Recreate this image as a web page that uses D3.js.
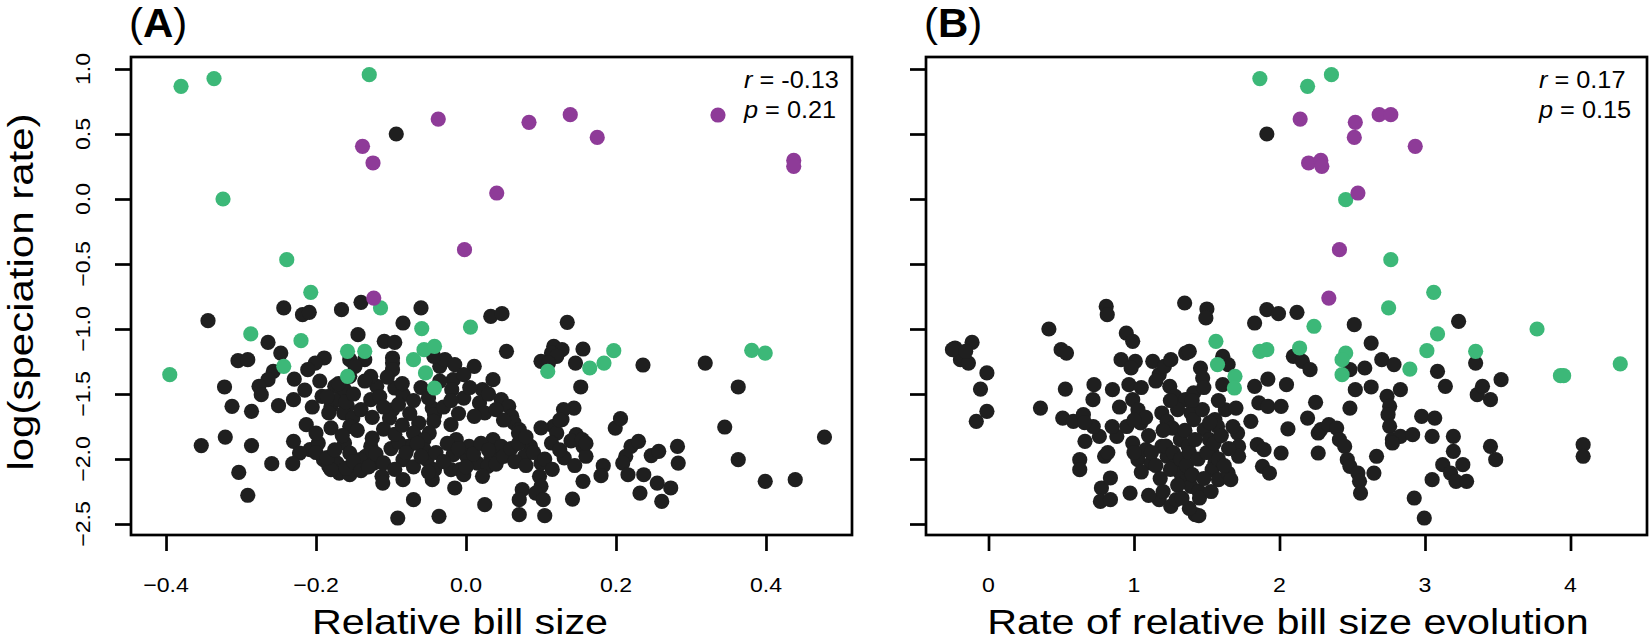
<!DOCTYPE html>
<html><head><meta charset="utf-8">
<script src="https://cdn.jsdelivr.net/npm/d3@7"></script>
<style>
body{margin:0;background:#fff}
svg{display:block}
text{font-family:"Liberation Sans",Arial,Helvetica,sans-serif;fill:#000}
</style>
</head><body>
<svg id="chart" width="1651" height="641"></svg>
<script>
// ---------- data ----------
const yTicks = [1.0, 0.5, 0.0, -0.5, -1.0, -1.5, -2.0, -2.5];
const xTicksA = [-0.4, -0.2, 0.0, 0.2, 0.4];
const xTicksB = [0, 1, 2, 3, 4];
const yTitle = "log(speciation rate)";
const xTitleA = "Relative bill size";
const xTitleB = "Rate of relative bill size evolution";
const statsA = ["-0.13", "0.21"];
const statsB = ["0.17", "0.15"];

const greenA = [[-0.380,0.867],[-0.336,0.926],[-0.129,0.956],[-0.324,0.0],[-0.239,-0.467],[-0.207,-0.718],[-0.114,-0.838],
[-0.287,-1.038],[-0.220,-1.090],[-0.059,-0.997],[0.006,-0.985],[-0.395,-1.351],[-0.243,-1.287],[-0.158,-1.172],[-0.135,-1.172],
[-0.158,-1.364],[-0.070,-1.236],[-0.056,-1.159],[-0.042,-1.133],[-0.054,-1.338],[-0.042,-1.454],[0.109,-1.326],[0.165,-1.300],
[0.184,-1.262],[0.197,-1.167],[0.381,-1.164],[0.399,-1.185]];
const purpleA = [[-0.138,0.405],[-0.124,0.277],[-0.037,0.615],[0.084,0.590],[0.139,0.649],[0.175,0.474],[0.336,0.646],
[0.437,0.297],[0.437,0.251],[0.041,0.046],[-0.002,-0.390],[-0.123,-0.762]];
const blackA = [[-0.093,0.5],
[-0.344,-0.936],[-0.243,-0.838],[-0.218,-0.890],[-0.209,-0.872],[-0.166,-0.851],[-0.140,-0.795],[-0.060,-0.838],[-0.084,-0.954],
[0.033,-0.903],[0.048,-0.882],[0.135,-0.949],
[-0.264,-1.103],[-0.144,-1.044],[-0.109,-1.095],[-0.095,-1.103],[0.117,-1.133],[0.128,-1.159],[0.114,-1.185],[0.121,-1.210],
[0.054,-1.172],[0.156,-1.154],
[-0.304,-1.244],[-0.291,-1.236],[-0.247,-1.185],[-0.189,-1.223],[-0.201,-1.262],[-0.211,-1.313],[-0.155,-1.236],[-0.135,-1.236],
[-0.098,-1.223],[-0.098,-1.262],[-0.098,-1.313],[-0.035,-1.287],[-0.028,-1.236],[-0.043,-1.210],[-0.015,-1.274],[0.011,-1.287],
[0.100,-1.249],[0.110,-1.262],[0.146,-1.262],[0.236,-1.277],[0.319,-1.262],
[-0.257,-1.326],[-0.264,-1.390],[-0.229,-1.385],[-0.276,-1.441],[-0.175,-1.441],[-0.155,-1.364],[-0.148,-1.287],[-0.119,-1.441],
[-0.095,-1.454],[-0.127,-1.364],[-0.017,-1.390],[-0.003,-1.351],[-0.019,-1.467],[0.022,-1.467],[0.036,-1.390],[0.153,-1.446],
[0.363,-1.446],[-0.322,-1.446],
[-0.273,-1.505],[-0.312,-1.595],[-0.286,-1.633],[-0.250,-1.590],[-0.230,-1.544],[-0.192,-1.518],[-0.180,-1.595],[-0.183,-1.646],
[-0.169,-1.544],[-0.162,-1.467],[-0.158,-1.595],[-0.163,-1.646],[-0.151,-1.685],[-0.127,-1.544],[-0.098,-1.621],[-0.102,-1.685],
[-0.084,-1.505],[-0.045,-1.608],[-0.042,-1.659],[-0.003,-1.531],[0.018,-1.569],[0.025,-1.646],[0.011,-1.672],[0.047,-1.544],
[0.057,-1.595],[0.061,-1.672],[0.144,-1.608],
[-0.213,-1.736],[-0.155,-1.749],[-0.063,-1.723],[-0.070,-1.800],[-0.043,-1.710],[-0.020,-1.736],[0.064,-1.723],[0.071,-1.774],
[0.117,-1.749],[0.128,-1.697],[0.121,-1.800],[0.147,-1.813],[0.199,-1.762],[0.206,-1.690],[0.345,-1.754],[-0.049,-1.800],
[-0.321,-1.831],[0.478,-1.831],[-0.013,-1.851],[0.036,-1.851],
[-0.353,-1.897],[-0.286,-1.897],[-0.230,-1.864],[-0.208,-1.928],[-0.222,-1.954],[-0.197,-1.877],[-0.162,-1.877],[-0.155,-1.954],
[-0.127,-1.903],[-0.077,-1.903],[-0.056,-1.851],[-0.056,-1.928],[0.004,-1.903],[0.001,-1.979],[-0.017,-1.967],[0.043,-1.954],
[0.047,-1.903],[0.086,-1.903],[0.078,-1.979],[0.114,-1.877],[0.156,-1.903],[0.160,-1.979],[0.131,-1.992],[0.220,-1.903],
[0.230,-1.864],[0.213,-1.979],[0.247,-1.974],[0.257,-1.941],[0.282,-1.903],[0.363,-2.005],[-0.084,-2.005],[-0.052,-2.005],
[-0.134,-1.979],[-0.190,-2.005],
[-0.303,-2.103],[-0.259,-2.036],[-0.231,-2.036],[-0.183,-2.056],[-0.169,-2.108],[-0.172,-2.031],[-0.155,-2.121],[-0.180,-2.082],
[-0.141,-2.005],[-0.123,-2.031],[-0.112,-2.133],[-0.111,-2.185],[-0.084,-2.159],[-0.045,-2.159],[-0.042,-2.082],[-0.020,-2.082],
[-0.008,-2.082],[-0.003,-2.121],[0.015,-2.031],[0.033,-2.005],[0.029,-2.056],[0.022,-2.133],[0.100,-2.031],[0.098,-2.133],
[0.183,-2.051],[0.180,-2.128],[0.209,-2.031],[0.216,-2.121],[0.237,-2.121],[0.283,-2.031],[0.255,-2.185],[0.156,-2.172],
[0.399,-2.172],[0.439,-2.159],[-0.015,-2.223],[0.273,-2.223],[0.100,-2.210],
[-0.291,-2.279],[-0.070,-2.313],[0.025,-2.351],[0.075,-2.236],[0.071,-2.313],[0.093,-2.262],[0.103,-2.313],[0.142,-2.308],
[0.232,-2.262],[0.261,-2.326],[-0.036,-2.441],[-0.091,-2.454],[0.071,-2.428],[0.105,-2.436],
[-0.200,-1.95],[-0.185,-1.99],[-0.175,-1.93],[-0.160,-2.07],[-0.150,-2.02],[-0.140,-2.09],[-0.130,-2.06],[-0.120,-1.96],
[-0.110,-2.03],[-0.100,-1.92],[-0.095,-2.08],[-0.090,-1.87],[-0.080,-1.95],[-0.070,-2.06],[-0.065,-1.88],[-0.060,-1.98],
[-0.050,-2.10],[-0.040,-1.95],[-0.030,-2.02],[-0.025,-1.88],[-0.010,-1.92],[0.000,-2.06],[0.010,-1.96],[0.020,-1.88],
[0.030,-1.93],[0.040,-2.04],[0.050,-1.98],[0.060,-1.92],[0.065,-2.02],[0.070,-1.88],[0.080,-2.05],[0.090,-1.95],
[0.105,-2.00],[0.115,-2.08],[0.125,-1.93],[0.140,-1.86],[0.145,-2.05],
[-0.215,-1.47],[-0.205,-1.60],[-0.195,-1.40],[-0.185,-1.52],[-0.170,-1.42],[-0.160,-1.56],[-0.150,-1.50],[-0.140,-1.62],
[-0.135,-1.40],[-0.125,-1.68],[-0.115,-1.52],[-0.110,-1.60],[-0.105,-1.37],[-0.090,-1.58],[-0.085,-1.42],[-0.075,-1.65],
[-0.070,-1.55],[-0.060,-1.45],[-0.050,-1.53],[-0.035,-1.40],[-0.030,-1.60],[-0.020,-1.55],[-0.010,-1.65],[0.005,-1.45],
[0.030,-1.50],[0.040,-1.62],[0.050,-1.70],[0.070,-1.80],[0.080,-1.83],[0.100,-1.76],[0.130,-1.62],[0.125,-1.70],
[0.155,-1.85],[0.160,-1.88],
[-0.200,-1.80],[-0.180,-1.76],[-0.165,-1.82],[-0.145,-1.78],[-0.125,-1.84],[-0.110,-1.77],[-0.095,-1.81],[-0.085,-1.74]];

const greenB = [[1.865,0.926],[2.193,0.867],[2.357,0.956],[2.455,-0.005],[2.765,-0.467],[3.060,-0.718],[2.750,-0.838],
[2.237,-0.979],[1.563,-1.095],[1.574,-1.274],[1.694,-1.364],[1.690,-1.454],[1.865,-1.172],[1.913,-1.159],[2.138,-1.146],
[2.455,-1.185],[2.430,-1.236],[2.430,-1.351],[2.896,-1.308],[3.013,-1.167],[3.086,-1.038],[3.348,-1.172],[3.770,-1.0],
[3.931,-1.359],[3.953,-1.359],[4.342,-1.269]];
const purpleB = [[2.142,0.615],[2.521,0.590],[2.514,0.474],[2.685,0.649],[2.765,0.649],[2.933,0.405],[2.200,0.277],
[2.284,0.297],[2.291,0.251],[2.539,0.046],[2.412,-0.390],[2.339,-0.762]];
const blackB = [[1.913,0.5],
[-0.230,-1.146],[-0.175,-1.197],[-0.113,-1.103],[-0.193,-1.236],[-0.138,-1.262],[-0.248,-1.159],[-0.157,-1.172],[-0.011,-1.338],
[-0.055,-1.462],[-0.011,-1.633],[-0.084,-1.710],
[0.415,-1.0],[0.499,-1.159],[0.536,-1.185],[0.528,-1.462],[0.357,-1.608],[0.510,-1.685],[0.583,-1.710],[0.652,-1.659],
[0.663,-1.864],[0.627,-2.005],[0.627,-2.082],[0.725,-1.428],[0.718,-1.544],[0.762,-1.826],[0.798,-1.979],[0.809,-0.826],
[0.816,-0.890],[0.776,-2.223],[0.769,-2.326],[0.838,-2.146],[0.838,-2.313],[0.852,-1.467],[0.882,-1.826],[0.911,-1.236],
[0.947,-1.031],[0.991,-1.095],[0.965,-1.428],[0.991,-1.544],[0.973,-2.262],[1.009,-1.249],[1.027,-1.621],[1.046,-1.723],
[0.991,-1.877],[1.027,-2.005],[1.082,-1.928],[1.118,-2.031],[1.129,-1.249],[1.173,-1.351],[1.209,-1.287],[1.253,-1.236],
[1.173,-2.313],[1.191,-1.646],[1.228,-1.710],[1.264,-1.762],[1.246,-1.441],[1.282,-1.518],[1.191,-1.903],[1.228,-1.979],
[1.275,-2.056],[1.253,-2.364],[1.290,-2.313],[1.319,-1.851],[1.373,-1.903],[1.319,-2.108],[1.355,-2.172],[1.392,-2.210],
[1.348,-0.800],[1.355,-1.185],[1.380,-1.172],[1.355,-1.544],[1.410,-1.492],[1.392,-1.646],[1.410,-1.697],[1.421,-2.428],
[1.446,-2.436],[1.446,-2.249],[1.457,-1.300],[1.472,-1.377],[1.501,-0.846],[1.494,-0.915],[1.483,-1.774],[1.519,-1.851],
[1.537,-1.954],[1.556,-2.031],[1.537,-2.082],[1.556,-1.697],[1.574,-1.749],[1.581,-2.159],[1.610,-1.210],[1.647,-1.274],
[1.610,-1.428],[1.628,-1.621],[1.647,-2.108],[1.665,-2.159],[1.701,-1.608],[1.712,-1.800],[1.719,-1.903],[1.719,-1.979],
[1.803,-1.710],[1.829,-0.954],[1.829,-1.441],[1.858,-1.569],[1.920,-1.595],[1.883,-2.056],[1.931,-2.108],[1.847,-1.890],
[1.894,-1.928],[1.920,-1.385],[1.913,-0.851],[1.993,-0.882],[2.011,-1.595],[2.011,-1.954],[2.048,-1.428],[2.058,-1.769],
[2.095,-1.210],[2.157,-1.249],[2.120,-0.872],[2.210,-1.313],[2.248,-1.564],[2.193,-1.685],[2.266,-1.800],[2.284,-1.774],
[2.266,-1.954],[2.339,-1.736],[2.393,-1.762],[2.412,-1.851],[2.448,-1.903],[2.466,-2.005],[2.484,-2.056],[2.484,-1.608],
[2.514,-0.967],[2.484,-1.313],[2.521,-1.467],[2.539,-2.108],[2.550,-2.172],[2.557,-2.262],[2.630,-1.108],[2.586,-1.300],
[2.630,-1.446],[2.667,-1.979],[2.649,-2.108],[2.703,-1.236],[2.739,-1.518],[2.757,-1.595],[2.746,-1.659],[2.757,-1.749],
[2.776,-1.851],[2.787,-1.274],[2.831,-1.467],[2.831,-1.826],[2.776,-1.877],[2.915,-1.813],[2.977,-1.672],[2.926,-2.300],
[2.995,-2.454],[3.049,-1.826],[3.049,-2.159],[3.067,-1.685],[3.086,-1.326],[3.122,-2.044],[3.140,-1.441],[3.176,-2.108],
[3.195,-1.826],[3.195,-1.941],[3.213,-2.172],[3.286,-2.172],[3.231,-0.941],[3.260,-2.044],[3.348,-1.262],[3.359,-1.505],
[3.395,-1.441],[3.450,-1.544],[3.450,-1.903],[3.486,-2.005],[3.523,-1.390],[4.087,-1.890],[4.087,-1.979],
[0.90,-1.60],[0.95,-1.75],[1.00,-1.95],[1.05,-2.10],[1.08,-1.68],[1.10,-1.82],[1.12,-1.95],[1.15,-2.05],[1.18,-2.15],
[1.20,-1.78],[1.22,-1.90],[1.25,-2.08],[1.27,-1.95],[1.30,-2.20],[1.30,-1.62],[1.32,-2.00],[1.35,-1.78],[1.36,-2.05],
[1.38,-1.95],[1.40,-2.12],[1.42,-1.85],[1.44,-2.00],[1.45,-2.30],[1.47,-1.62],[1.48,-2.15],[1.50,-1.95],[1.52,-1.72],
[1.53,-2.25],[1.55,-1.88],[1.58,-2.00],[1.60,-1.82],[1.62,-2.05],[1.65,-1.92],[1.68,-1.75],[1.25,-1.55],[1.15,-1.40],
[1.05,-1.45],[0.98,-1.30],[1.38,-2.38],[1.33,-2.30],[1.20,-2.25],[1.10,-2.28],[1.40,-1.55],[1.48,-1.45],[1.58,-1.55],
[1.00,-1.70],[0.85,-1.75],[0.82,-1.95],[0.72,-1.75],[0.66,-1.72]];

// ---------- layout / style ----------
const COL = {black:"#1f1f1f", green:"#3cb878", purple:"#8e3b98"};
const R = 7.6, LW = 2.7, TICK = 16;
const plotTop = 57, plotBottom = 535;
const svg = d3.select("#chart");
svg.append("rect").attr("width",1651).attr("height",641).attr("fill","#fff");

const y = d3.scaleLinear().domain([-2.5846, 1.0923]).range([plotBottom, plotTop]);

function stretch(sel, k){
  sel.each(function(){
    const L = this.getComputedTextLength();
    this.setAttribute("textLength", L*k);
    this.setAttribute("lengthAdjust","spacingAndGlyphs");
  });
}

function panel(opt){
  const {left, right, xDomain, xTicks, fmt, black, green, purple, label, stats, xTitle, xTitleX, yLabels} = opt;
  const x = d3.scaleLinear().domain(xDomain).range([left, right]);
  const g = svg.append("g");

  const groups = [[black, COL.black],[green, COL.green],[purple, COL.purple]];
  groups.forEach(([arr, c]) => {
    g.append("g").selectAll("circle").data(arr).join("circle")
      .attr("cx", d => x(d[0])).attr("cy", d => y(d[1])).attr("r", R).attr("fill", c);
  });

  g.append("rect").attr("x", left).attr("y", plotTop).attr("width", right-left).attr("height", plotBottom-plotTop)
    .attr("fill","none").attr("stroke","#000").attr("stroke-width", LW);

  const ax = g.append("g").attr("transform", `translate(0,${plotBottom})`)
    .call(d3.axisBottom(x).tickValues(xTicks).tickSize(TICK).tickFormat(""));
  const ay = g.append("g").attr("transform", `translate(${left},0)`)
    .call(d3.axisLeft(y).tickValues(yTicks).tickSize(TICK).tickFormat(""));
  [ax, ay].forEach(a => {
    a.select(".domain").remove();
    a.selectAll("line").attr("stroke","#000").attr("stroke-width", LW);
  });

  g.append("g").selectAll("text").data(xTicks).join("text")
    .attr("transform", d => `translate(${x(d)},592) scale(1.1,1)`)
    .attr("text-anchor","middle").attr("font-size", 21).text(fmt);

  if (yLabels) {
    g.append("g").selectAll("text").data(yTicks).join("text")
      .attr("transform", d => `translate(90,${y(d)}) rotate(-90) scale(1.1,1)`)
      .attr("text-anchor","middle").attr("font-size", 21).text(d3.format(".1f"));
  }

  const xt = g.append("text").attr("x", xTitleX).attr("y", 634).attr("text-anchor","middle")
    .attr("font-size", 35).text(xTitle);
  stretch(xt, 1.18);

  const pl = g.append("text").attr("x", left - 2).attr("y", 37).attr("font-size", 40);
  pl.append("tspan").text("(");
  pl.append("tspan").attr("font-weight","bold").text(label);
  pl.append("tspan").text(")");
  stretch(pl, 1.05);

  const sx = right - 108;
  const t1 = g.append("text").attr("x", sx).attr("y", 88).attr("font-size", 23);
  t1.append("tspan").attr("font-style","italic").text("r");
  t1.append("tspan").text(" = " + stats[0]);
  const t2 = g.append("text").attr("x", sx).attr("y", 118).attr("font-size", 23);
  t2.append("tspan").attr("font-style","italic").text("p");
  t2.append("tspan").text(" = " + stats[1]);
  stretch(t1, 1.1); stretch(t2, 1.1);
}

panel({left:131, right:852, xDomain:[-0.4467, 0.5147], xTicks:xTicksA, fmt:d3.format(".1f"),
  black:blackA, green:greenA, purple:purpleA, label:"A", stats:statsA, xTitle:xTitleA, xTitleX:460, yLabels:true});
panel({left:926, right:1647, xDomain:[-0.4296, 4.5258], xTicks:xTicksB, fmt:d3.format("d"),
  black:blackB, green:greenB, purple:purpleB, label:"B", stats:statsB, xTitle:xTitleB, xTitleX:1288, yLabels:false});

const yt = svg.append("text").attr("transform", "translate(33,292) rotate(-90)")
  .attr("text-anchor","middle").attr("font-size", 35).text(yTitle);
stretch(yt, 1.2);
</script>
</body></html>
